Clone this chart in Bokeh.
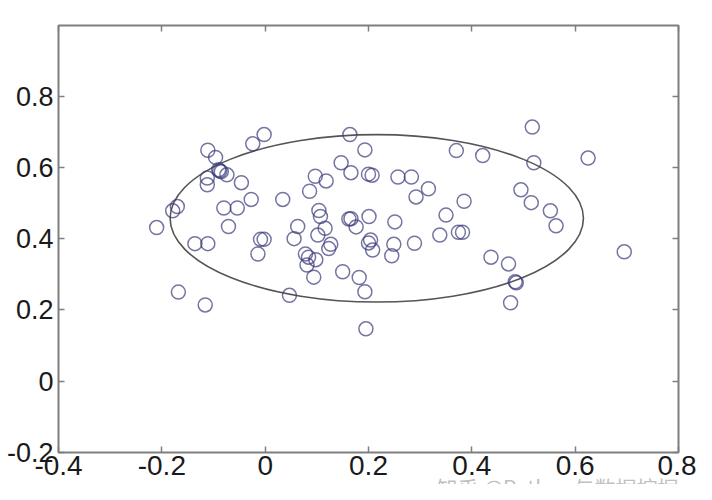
from bokeh.plotting import figure
from bokeh.models import FixedTicker, LinearAxis, Range1d, CustomJSTickFormatter, Title
from bokeh.embed import file_html
from bokeh.resources import INLINE

# ---- data ----
pts_x = [-0.210, -0.179, -0.170, -0.168, -0.136, -0.111, -0.116, -0.111, -0.112, -0.112,
         -0.096, -0.090, -0.085, -0.088, -0.074, -0.080, -0.071, -0.054, -0.046, -0.027,
         -0.024, -0.002, -0.014, -0.009, -0.002, 0.034, 0.047, 0.056, 0.063, 0.086,
         0.097, 0.118, 0.104, 0.107, 0.116, 0.102, 0.127, 0.123, 0.078, 0.084,
         0.081, 0.098, 0.094, 0.147, 0.166, 0.164, 0.193, 0.162, 0.166, 0.176,
         0.150, 0.182, 0.193, 0.195, 0.200, 0.207, 0.201, 0.200, 0.204, 0.208,
         0.251, 0.249, 0.245, 0.257, 0.283, 0.292, 0.316, 0.289, 0.338, 0.350,
         0.370, 0.421, 0.374, 0.382, 0.385, 0.437, 0.471, 0.475, 0.484, 0.486,
         0.495, 0.515, 0.517, 0.520, 0.552, 0.563, 0.625, 0.695]
pts_y = [0.431, 0.478, 0.490, 0.250, 0.386, 0.386, 0.214, 0.648, 0.570, 0.551,
         0.628, 0.593, 0.588, 0.590, 0.579, 0.486, 0.434, 0.486, 0.557, 0.510,
         0.666, 0.692, 0.357, 0.398, 0.398, 0.510, 0.241, 0.400, 0.434, 0.533,
         0.575, 0.562, 0.479, 0.462, 0.429, 0.410, 0.384, 0.372, 0.357, 0.348,
         0.326, 0.341, 0.292, 0.613, 0.585, 0.692, 0.649, 0.455, 0.456, 0.433,
         0.307, 0.291, 0.251, 0.147, 0.581, 0.578, 0.462, 0.388, 0.396, 0.368,
         0.447, 0.384, 0.352, 0.573, 0.573, 0.517, 0.540, 0.387, 0.410, 0.466,
         0.647, 0.633, 0.418, 0.418, 0.505, 0.348, 0.329, 0.220, 0.279, 0.276,
         0.537, 0.501, 0.713, 0.613, 0.478, 0.436, 0.626, 0.363]

ell_center_x = [0.216]
ell_center_y = [0.457]
ell_width = [0.80]
ell_height = [0.47]

x_ticks = [-0.4, -0.2, 0.0, 0.2, 0.4, 0.6, 0.8]
x_tick_labels = ["-0.4", "-0.2", "0", "0.2", "0.4", "0.6", "0.8"]
y_ticks = [-0.2, 0.0, 0.2, 0.4, 0.6, 0.8]
y_tick_labels = ["-0.2", "0", "0.2", "0.4", "0.6", "0.8"]

watermark = "知乎 @Python与数据挖掘"

# ---- figure ----
p = figure(width=696, height=484, output_backend="svg", toolbar_location=None,
           x_range=Range1d(-0.4, 0.8), y_range=Range1d(-0.2, 0.998),
           min_border_left=58, min_border_right=18, min_border_top=25, min_border_bottom=32)
p.background_fill_color = "white"
p.border_fill_color = "white"
p.grid.visible = False
p.outline_line_color = "#7f7f7f"
p.outline_line_width = 2

FONT = "Liberation Sans"
for ax in (p.xaxis[0], p.yaxis[0]):
    ax.axis_line_color = None
    ax.major_tick_in = 6
    ax.major_tick_out = 0
    ax.minor_tick_line_color = None
    ax.major_tick_line_color = "#7f7f7f"
    ax.major_tick_line_width = 1.5
    ax.major_label_text_font = FONT
    ax.major_label_text_color = "#1a1a1a"

p.xaxis.ticker = FixedTicker(ticks=x_ticks)
p.yaxis.ticker = FixedTicker(ticks=y_ticks)
p.xaxis.major_label_overrides = dict(zip(x_ticks, x_tick_labels))
p.yaxis.major_label_overrides = dict(zip(y_ticks, y_tick_labels))
p.xaxis.major_label_text_font_size = "28px"
p.yaxis.major_label_text_font_size = "27px"
p.xaxis.major_label_standoff = 3
p.yaxis.major_label_standoff = 5

# mirrored ticks on top and right (no labels)
blank = CustomJSTickFormatter(code="return '';")
top_ax = LinearAxis(ticker=FixedTicker(ticks=x_ticks), axis_line_color=None,
                    major_tick_in=6, major_tick_out=0, minor_tick_line_color=None,
                    major_tick_line_color="#7f7f7f", major_tick_line_width=1.5,
                    formatter=blank, major_label_standoff=0)
right_ax = LinearAxis(ticker=FixedTicker(ticks=y_ticks), axis_line_color=None,
                      major_tick_in=6, major_tick_out=0, minor_tick_line_color=None,
                      major_tick_line_color="#7f7f7f", major_tick_line_width=1.5,
                      formatter=blank, major_label_standoff=0)
p.add_layout(top_ax, "above")
p.add_layout(right_ax, "right")

# watermark as a title below, pulled up over the tick labels
p.add_layout(Title(text=watermark, align="right", standoff=-48,
                   text_font="Noto Sans CJK SC", text_font_style="normal",
                   text_font_size="21px", text_color="#b8b8b8", text_alpha=0.9),
             "below")

# ellipse
p.ellipse(x=ell_center_x, y=ell_center_y, width=ell_width, height=ell_height,
          fill_color=None, line_color="#555555", line_width=1.6)

# points
p.scatter(x=pts_x, y=pts_y, marker="circle", size=14, fill_color=None,
          line_color="#3a3a7a", line_alpha=0.7, line_width=1.5)

open("out.html", "w").write(file_html(p, INLINE))
